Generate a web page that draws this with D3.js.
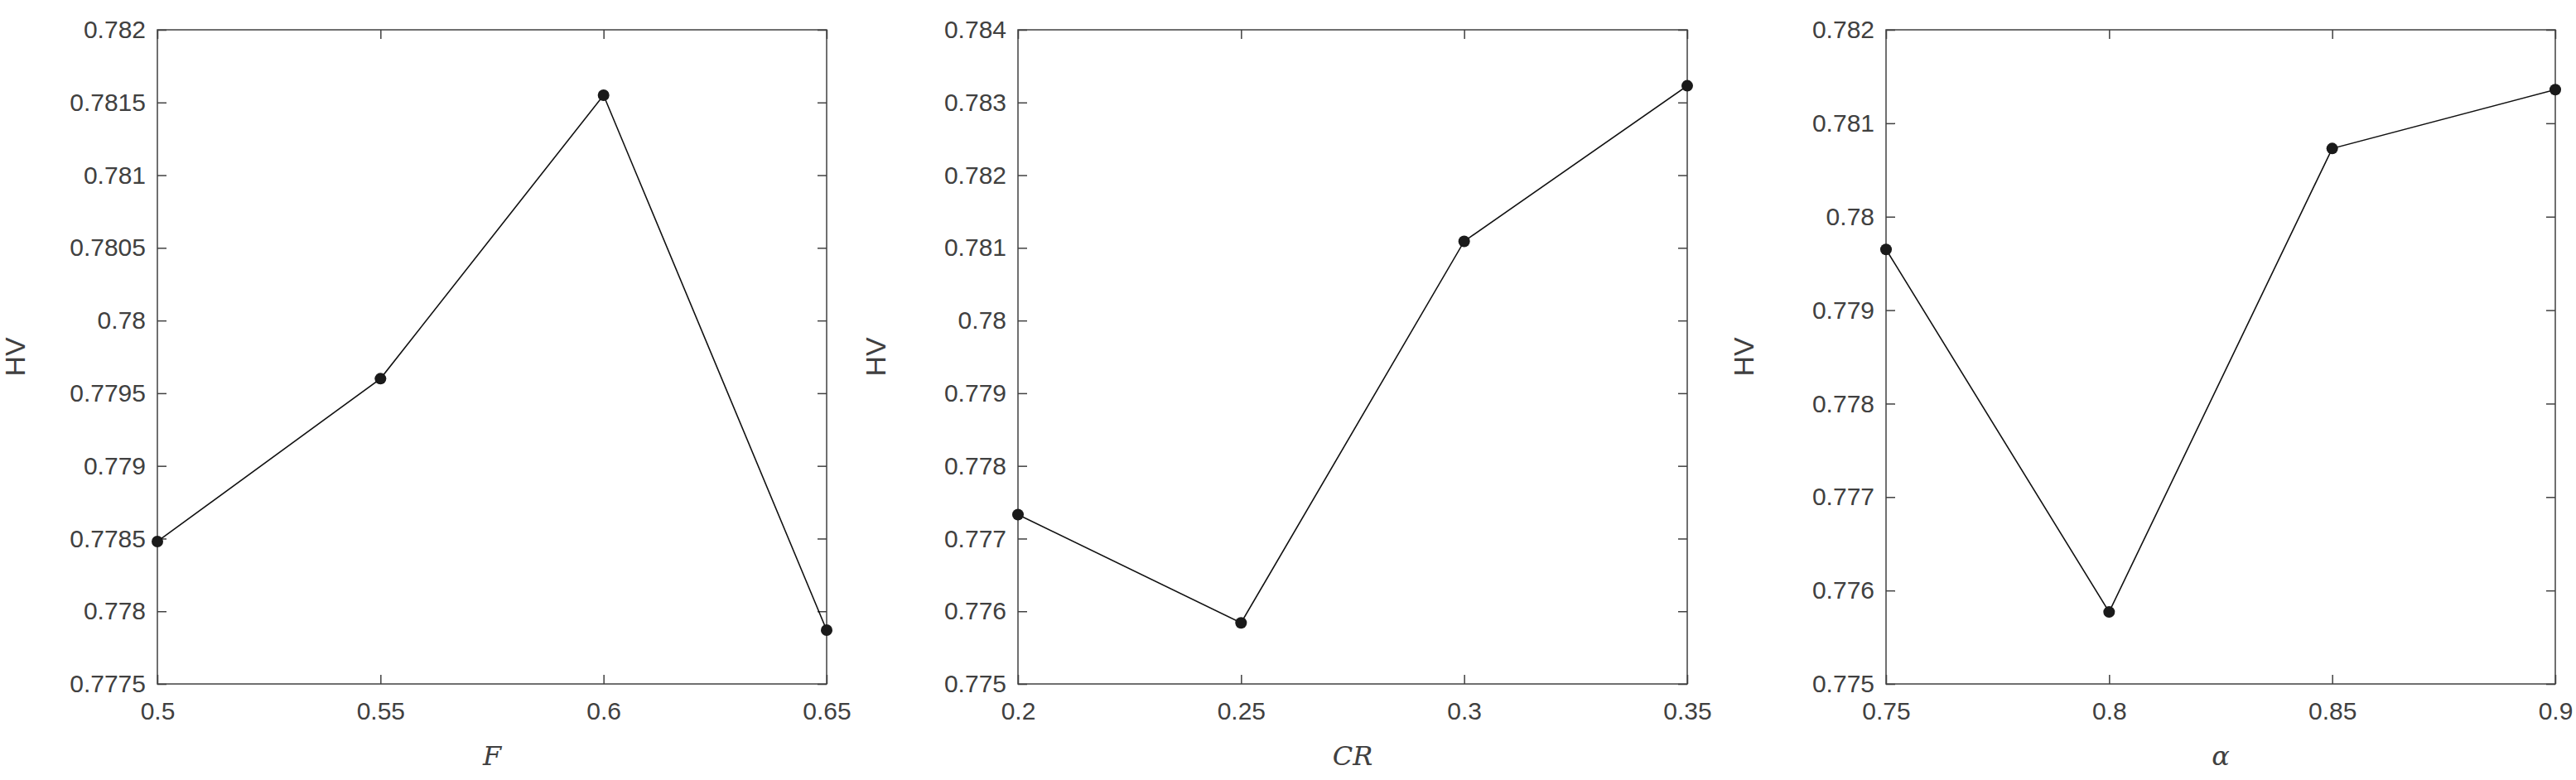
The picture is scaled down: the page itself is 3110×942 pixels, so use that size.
<!DOCTYPE html>
<html><head><meta charset="utf-8">
<script src="https://cdn.jsdelivr.net/npm/d3@7"></script>
<style>body{margin:0;background:#fff}</style></head>
<body><svg id="c" width="3110" height="942"></svg>
<script>
const xLabels = ["F", "CR", "\u03b1"];
const xValues = [[0.5, 0.55, 0.6, 0.65], [0.2, 0.25, 0.3, 0.35], [0.75, 0.8, 0.85, 0.9]];
const hvValues = [
  [0.77848, 0.7796, 0.78155, 0.77787],
  [0.77733, 0.77584, 0.78109, 0.78323],
  [0.77965, 0.77577, 0.78073, 0.78136]
];
const yDomains = [[0.7775, 0.782], [0.775, 0.784], [0.775, 0.782]];
const yTickValues = [
  [0.7775, 0.778, 0.7785, 0.779, 0.7795, 0.78, 0.7805, 0.781, 0.7815, 0.782],
  [0.775, 0.776, 0.777, 0.778, 0.779, 0.78, 0.781, 0.782, 0.783, 0.784],
  [0.775, 0.776, 0.777, 0.778, 0.779, 0.78, 0.781, 0.782]
];

const PANEL_LEFT = [190, 1229, 2277];
const PANEL_W = 808, TOP = 36, BOTTOM = 826;
const AXIS_COLOR = "#404040";
const svg = d3.select("#c");

xLabels.forEach((lab, k) => {
  const g = svg.append("g").attr("transform", `translate(${PANEL_LEFT[k]},0)`);
  const x = d3.scaleLinear().domain(d3.extent(xValues[k])).range([0, PANEL_W]);
  const y = d3.scaleLinear().domain(yDomains[k]).range([BOTTOM, TOP]);
  const fmt = d => String(+d.toFixed(4));

  const styleAxis = a => {
    a.select(".domain").remove();
    a.selectAll("line").attr("stroke", AXIS_COLOR).attr("stroke-width", 1.5);
    a.selectAll("text").attr("fill", AXIS_COLOR).style("font-family", "Liberation Sans, Arial").style("font-size", "30px");
  };
  g.append("g").attr("transform", `translate(0,${BOTTOM})`)
    .call(d3.axisBottom(x).tickValues(xValues[k]).tickFormat(fmt).tickSizeInner(-11).tickSizeOuter(0).tickPadding(22))
    .call(styleAxis);
  g.append("g").attr("transform", `translate(0,${TOP})`)
    .call(d3.axisTop(x).tickValues(xValues[k]).tickFormat("").tickSizeInner(-11).tickSizeOuter(0))
    .call(styleAxis);
  g.append("g")
    .call(d3.axisLeft(y).tickValues(yTickValues[k]).tickFormat(fmt).tickSizeInner(-11).tickSizeOuter(0).tickPadding(14))
    .call(styleAxis);
  g.append("g").attr("transform", `translate(${PANEL_W},0)`)
    .call(d3.axisRight(y).tickValues(yTickValues[k]).tickFormat("").tickSizeInner(-11).tickSizeOuter(0))
    .call(styleAxis);
  g.append("rect").attr("x", 0).attr("y", TOP).attr("width", PANEL_W).attr("height", BOTTOM - TOP)
    .attr("fill", "none").attr("stroke", AXIS_COLOR).attr("stroke-width", 1.5);

  const pts = xValues[k].map((v, i) => [v, hvValues[k][i]]);
  g.append("path").datum(pts)
    .attr("d", d3.line().x(d => x(d[0])).y(d => y(d[1])))
    .attr("fill", "none").attr("stroke", "#111").attr("stroke-width", 1.6);
  g.selectAll("circle").data(pts).join("circle")
    .attr("cx", d => x(d[0])).attr("cy", d => y(d[1])).attr("r", 7).attr("fill", "#1a1a1a");

  g.append("text").attr("x", PANEL_W / 2).attr("y", 924).attr("text-anchor", "middle")
    .style("font-family", "DejaVu Serif, serif").style("font-style", "italic").style("font-size", "32px")
    .attr("fill", AXIS_COLOR).text(lab);
  g.append("text").attr("transform", `translate(-160,${(TOP + BOTTOM) / 2}) rotate(-90)`)
    .attr("text-anchor", "middle").style("font-family", "Liberation Sans, Arial").style("font-size", "34px")
    .attr("fill", AXIS_COLOR).text("HV");
});
</script></body></html>
